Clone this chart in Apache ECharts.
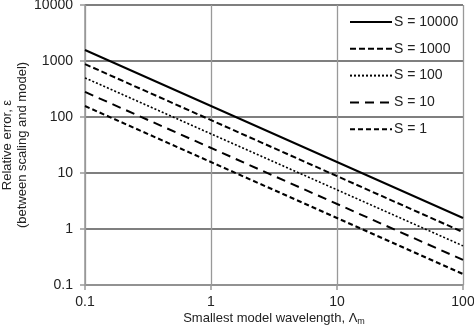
<!DOCTYPE html>
<html>
<head>
<meta charset="utf-8">
<script src="https://cdn.jsdelivr.net/npm/echarts@6/dist/echarts.min.js"></script>
<style>
  html, body { margin: 0; padding: 0; background: #fff; }
  #chart { width: 474px; height: 327px; }
</style>
</head>
<body>
<div id="chart"></div>
<script>
// Smallest model wavelength (x) at the two ends of each line
const wavelengths = [0.1, 100];
// Relative error for each scale factor S (straight lines on log-log axes)
const errS10000 = [1570, 1.57];
const errS1000 = [880, 0.88];
const errS100 = [500, 0.5];
const errS10 = [280, 0.28];
const errS1 = [157, 0.157];
const seriesNames = ['S = 10000', 'S = 1000', 'S = 100', 'S = 10', 'S = 1'];

const font = 'Liberation Sans, Arial, sans-serif';
const pairs = (ys) => wavelengths.map((x, i) => [x, ys[i]]);

const styles = [
  { type: 'solid', width: 2 },
  { type: [6, 3], width: 2 },
  { type: [2, 2], width: 1.6 },
  { type: [9, 6], width: 2 },
  { type: [5, 3], width: 2 }
];
const dataSets = [errS10000, errS1000, errS100, errS10, errS1];

const chart = echarts.init(document.getElementById('chart'));
chart.setOption({
  animation: false,
  backgroundColor: '#fff',
  grid: { left: 85, right: 11, top: 5, bottom: 42, containLabel: false, outerBoundsMode: 'none' },
  legend: {
    orient: 'vertical',
    left: 344,
    top: 10,
    itemWidth: 42,
    itemHeight: 12,
    itemGap: 12.8,
    itemStyle: { opacity: 0 },
    textStyle: { fontFamily: font, fontSize: 14, color: '#222', padding: [0, 0, 0, -3] },
    data: seriesNames
  },
  xAxis: {
    type: 'log',
    logBase: 10,
    min: 0.1,
    max: 100,
    name: 'Smallest model wavelength, Λ{sub|m}',
    nameLocation: 'middle',
    nameGap: 26,
    nameMoveOverlap: false,
    nameTextStyle: {
      fontFamily: font, fontSize: 13, color: '#222',
      rich: { sub: { fontFamily: font, fontSize: 9, color: '#222', verticalAlign: 'bottom', padding: [6, 0, 0, 0] } }
    },
    axisLine: { lineStyle: { color: '#999', width: 1.5 } },
    axisTick: { show: true, length: 5, lineStyle: { color: '#999', width: 1.5 } },
    minorTick: { show: false },
    axisLabel: {
      fontFamily: font, fontSize: 14, color: '#222', margin: 10,
      formatter: (v) => String(v)
    },
    splitLine: { show: true, lineStyle: { color: '#999', width: 1.3 } }
  },
  yAxis: {
    type: 'log',
    logBase: 10,
    min: 0.1,
    max: 10000,
    name: 'Relative error, ε\n(between scaling and model)',
    nameLocation: 'middle',
    nameGap: 55,
    nameMoveOverlap: false,
    nameTextStyle: { fontFamily: font, fontSize: 13, color: '#222', lineHeight: 15 },
    axisLine: { show: true, lineStyle: { color: '#999', width: 1.5 } },
    axisTick: { show: true, length: 5, lineStyle: { color: '#999', width: 1.5 } },
    minorTick: { show: false },
    axisLabel: {
      fontFamily: font, fontSize: 14, color: '#222', margin: 12,
      formatter: (v) => String(v)
    },
    splitLine: { show: true, lineStyle: { color: '#555', width: 1.5 } }
  },
  series: seriesNames.map((name, i) => ({
    name: name,
    type: 'line',
    symbol: 'none',
    data: pairs(dataSets[i]),
    lineStyle: { color: '#000', width: styles[i].width, type: styles[i].type },
    itemStyle: { color: '#000' }
  }))
});
</script>
</body>
</html>
